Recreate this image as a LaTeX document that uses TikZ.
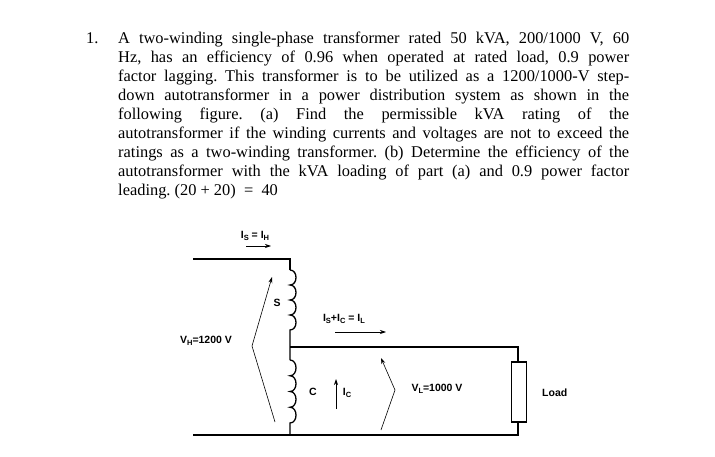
\documentclass[tikz,border=0pt]{standalone}
\usepackage{fontspec}
\setmainfont{Liberation Serif}
\newfontfamily\lab{Liberation Sans}
\usetikzlibrary{arrows.meta}
\newcommand{\sbx}[1]{\raisebox{-2.2pt}{\fontsize{7.5}{8}\selectfont #1}}
\begin{document}
\frenchspacing
\begin{tikzpicture}[x=1pt,y=-1pt,
  wire/.style={line width=1.3pt},
  cur/.style={-{Stealth[length=6pt,width=4pt]},line width=0.7pt},
  volt/.style={-{Stealth[length=6pt,width=4pt]},line width=0.6pt},
  txt/.style={inner sep=0,anchor=base west,font=\fontsize{16.4}{18}\selectfont\frenchspacing},
  lbl/.style={inner sep=1pt,font=\lab\fontsize{10.5}{12}\selectfont\bfseries}]
\useasboundingbox[fill=white] (0,0) rectangle (715,457);
% text
\node[txt] (n) at (86,44) {1.};
\foreach \t [count=\i] in {
 {A two-winding single-phase transformer rated 50 kVA, 200/1000 V, 60},
 {Hz, has an efficiency of 0.96 when operated at rated load, 0.9 power},
 {factor lagging. This transformer is to be utilized as a 1200/1000-V step-},
 {down autotransformer in a power distribution system as shown in the},
 {following figure. (a) Find the permissible kVA rating of the},
 {autotransformer if the winding currents and voltages are not to exceed the},
 {ratings as a two-winding transformer. (b) Determine the efficiency of the},
 {autotransformer with the kVA loading of part (a) and 0.9 power factor}}
 {\node[txt] (l\i) at (118,44+19*\i-19) {\makebox[511pt][s]{\t}};}
\node[txt] (l9) at (118,44+19*8) {leading. (20 + 20) \ = \ 40};
% circuit
\coordinate (tl) at (193,259); \coordinate (tr) at (290,259);
\coordinate (ms) at (290,270); \coordinate (me) at (290,330);
\coordinate (tap) at (290,347); \coordinate (cs) at (290,360);
\coordinate (ce) at (290,423); \coordinate (br) at (290,435);
\coordinate (bl) at (193,435); \coordinate (rt) at (518,347);
\coordinate (rb) at (518,435);
\draw[wire] (tl) -- (tr) -- (ms);
\draw[wire] (ms) \foreach \k in {0,...,3}{ .. controls +(8,0) and +(8,0) .. ++(0,15)} -- (me) -- (cs);
\draw[wire] (cs) \foreach \k in {0,...,3}{ .. controls +(8,0) and +(8,0) .. ++(0,15.75)} -- (ce) -- (br);
\draw[wire] (bl) -- (br) -- (rb) -- (518,422);
\draw[wire] (tap) -- (rt) -- (518,362);
\node[draw,line width=1.2pt,minimum width=15pt,minimum height=60pt,inner sep=0] (load) at (519,392) {};
\node[lbl,anchor=west] (loadl) at (541,393) {Load};
% labels
\node[lbl] (ish) at (255,236) {I\sbx{S} = I\sbx{H}};
\coordinate (a1) at (246,246); \coordinate (a2) at (271,246);
\draw[cur] (a1) -- (a2);
\node[lbl] (sl) at (277,303) {S};
\node[lbl] (vh) at (206,341) {V\sbx{H}=1200 V};
\coordinate (v1) at (275,422); \coordinate (v2) at (252,346); \coordinate (v3) at (272,277);
\draw[volt] (v1) -- (v2) -- (v3);
\node[lbl] (isc) at (344,319) {I\sbx{S}+I\sbx{C} = I\sbx{L}};
\coordinate (b1) at (335,332); \coordinate (b2) at (386,332);
\draw[cur] (b1) -- (b2);
\node[lbl] (cl) at (313,392) {C};
\coordinate (c1) at (336,409); \coordinate (c2) at (336,379);
\draw[cur] (c1) -- (c2);
\node[lbl] (icl) at (347,393) {I\sbx{C}};
\coordinate (w1) at (381,430); \coordinate (w2) at (395,390); \coordinate (w3) at (381,358);
\draw[volt] (w1) -- (w2) -- (w3);
\node[lbl] (vl) at (437,389) {V\sbx{L}=1000 V};
\end{tikzpicture}
\end{document}
